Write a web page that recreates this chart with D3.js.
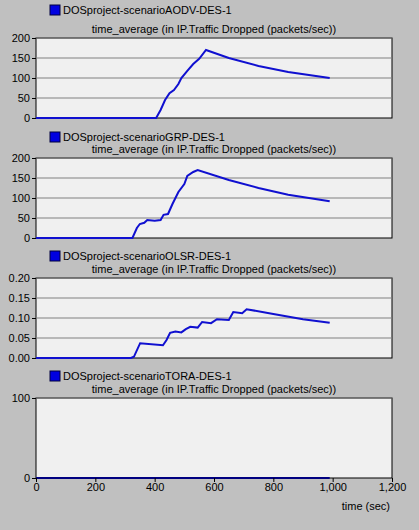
<!DOCTYPE html>
<html><head><meta charset="utf-8">
<script src="https://cdn.jsdelivr.net/npm/d3@7"></script>
<style>body{margin:0;background:#c0c0c0;font-family:"Liberation Sans",Arial,sans-serif;}</style>
</head><body>
<script>
const scenarios = ['DOSproject-scenarioAODV-DES-1', 'DOSproject-scenarioGRP-DES-1', 'DOSproject-scenarioOLSR-DES-1', 'DOSproject-scenarioTORA-DES-1'];
const subtitle = 'time_average (in IP.Traffic Dropped (packets/sec))';
const aodv = [[0,0],[405,0],[420,20],[435,45],[450,62],[465,70],[480,85],[490,100],[510,118],[530,135],[550,148],[573,170],[650,150],[750,130],[850,115],[990,100]];
const grp = [[0,0],[325,0],[340,25],[350,35],[365,38],[375,45],[400,43],[420,45],[430,58],[445,60],[460,85],[480,115],[500,135],[510,155],[530,165],[545,170],[650,145],[750,125],[850,108],[990,92]];
const olsr = [[0,0],[320,0],[330,0.003],[351,0.037],[428,0.032],[440,0.045],[452,0.063],[470,0.066],[490,0.064],[505,0.072],[520,0.078],[545,0.076],[560,0.09],[590,0.087],[610,0.097],[650,0.095],[665,0.115],[695,0.112],[710,0.122],[800,0.11],[900,0.097],[990,0.088]];
const tora = [[0,0],[990,0]];
const series = [aodv, grp, olsr, tora];
const yDomains = [[0,200],[0,200],[0,0.2],[0,100]];
const yTicks = [[0,50,100,150,200],[0,50,100,150,200],[0,0.05,0.1,0.15,0.2],[0,100]];
const xTicks = [0,200,400,600,800,1000,1200];

const W = 419, H = 530, left = 36, right = 392, plotH = 80;
const tops = [38, 158, 278, 398];
const legendY = [10, 137, 256, 376];
const svg = d3.select('body').append('svg').attr('width', W).attr('height', H);
const x = d3.scaleLinear().domain([0,1200]).range([left, right]);

series.forEach((data, i) => {
    const top = tops[i];
    const y = d3.scaleLinear().domain(yDomains[i]).range([top + plotH, top]);
    svg.append('rect').attr('x', 50).attr('y', legendY[i] - 5).attr('width', 10).attr('height', 10)
        .attr('fill', '#0000e0').attr('stroke', '#000040');
    svg.append('text').attr('x', 63).attr('y', legendY[i] + 4).attr('font-size', 11).text(scenarios[i]);
    svg.append('text').attr('x', (left + right) / 2).attr('y', top - 5).attr('text-anchor', 'middle')
        .attr('font-size', 11).text(subtitle);
    svg.append('rect').attr('x', left).attr('y', top).attr('width', right - left).attr('height', plotH)
        .attr('fill', '#f0f0f0').attr('stroke', '#000');
    svg.selectAll(null).data(yTicks[i].slice(1)).enter().append('line')
        .attr('x1', left).attr('x2', right).attr('y1', d => y(d)).attr('y2', d => y(d))
        .attr('stroke', '#808080');
    const fmt = i === 2 ? d3.format('.2f') : d3.format('d');
    svg.append('g').attr('transform', `translate(${left},0)`)
        .call(d3.axisLeft(y).tickValues(yTicks[i]).tickFormat(fmt).tickSize(4).tickPadding(2))
        .call(g => g.select('.domain').remove())
        .call(g => g.selectAll('text').attr('font-size', 11).attr('font-family', '"Liberation Sans",Arial').attr('fill', '#000'));
    svg.append('path').datum(data)
        .attr('d', d3.line().x(d => x(d[0])).y(d => y(d[1])))
        .attr('fill', 'none').attr('stroke', i === 3 ? '#000080' : '#1010d0').attr('stroke-width', 2);
});

svg.append('g').attr('transform', `translate(0,${tops[3] + plotH})`)
    .call(d3.axisBottom(x).tickValues(xTicks).tickFormat(d3.format(',')).tickSize(4).tickPadding(1))
    .call(g => g.select('.domain').remove())
    .call(g => g.selectAll('text').attr('font-size', 11).attr('font-family', '"Liberation Sans",Arial').attr('fill', '#000'));
svg.append('text').attr('x', 390).attr('y', 510).attr('text-anchor', 'end').attr('font-size', 11).text('time (sec)');
</script>
</body></html>
